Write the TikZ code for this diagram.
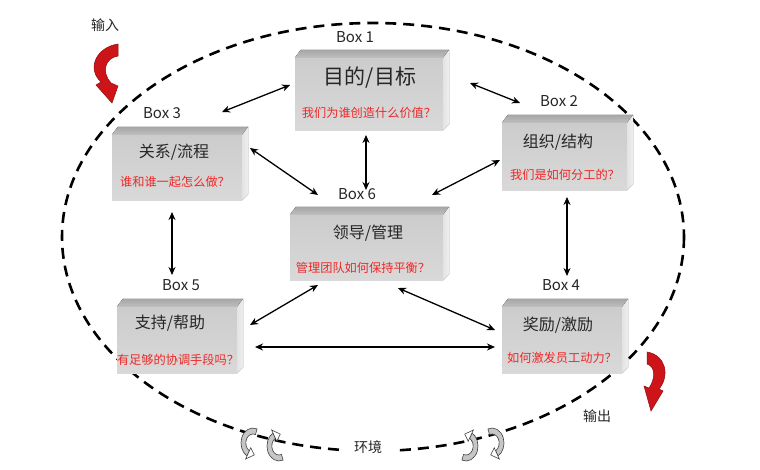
\documentclass[tikz,border=0pt]{standalone}
\usepackage{fontspec}
\setmainfont{Noto Sans CJK SC}
\usetikzlibrary{arrows.meta}
\definecolor{redtxt}{RGB}{238,40,40}
\definecolor{arrred}{RGB}{205,20,25}
\newcommand\mycube[5]{%
  \node[frontface, minimum width=#4pt, minimum height=#5pt] (#1) at (#2,#3) {};
  \fill[topface] (#1.north west) -- ++(6,-8) -- ([shift={(6,-8)}]#1.north east) -- (#1.north east) -- cycle;
  \fill[sideface] (#1.north east) -- ++(6,-8) -- ([shift={(6,-6)}]#1.south east) -- (#1.south east) -- cycle;
}
\tikzset{
  frontface/.style={inner sep=0pt, top color=gray!40, bottom color=gray!30, draw=none},
  topface/.style={top color=gray!70, bottom color=gray!50},
  sideface/.style={left color=gray!22, right color=gray!12},
  boxlbl/.style={font=\fontsize{15}{16}\selectfont, text=black!85},
  ttl/.style={font=\fontsize{16}{17}\selectfont, text=black!85},
  qst/.style={font=\fontsize{12.2}{13}\selectfont, text=redtxt},
  conn/.style={{Stealth[length=8pt,width=7pt]}-{Stealth[length=8pt,width=7pt]}, line width=1.3pt},
  envlbl/.style={font=\fontsize{14}{15}\selectfont, text=black!85},
  cyc/.pic={
    \filldraw[fill=gray!45, draw=black!75, line width=0.6pt] (70:15pt) arc[start angle=70, end angle=240, radius=15pt] -- (240:9pt) arc[start angle=240, end angle=70, radius=9pt] -- cycle;
    \filldraw[fill=white, draw=black!75, line width=0.6pt] (240:18.5pt) -- (278:12pt) -- (240:5.5pt) -- cycle;
  }
}
\begin{document}
\begin{tikzpicture}[x=1pt,y=-1pt]
\useasboundingbox (0,0) rectangle (760,469);
\fill[white] (0,0) rectangle (760,469);

% environment ellipse
\draw[dash pattern=on 11pt off 7pt, line width=2.6pt] (373,237) ellipse [x radius=311, y radius=214];

% boxes
\mycube{b1}{369}{94}{148}{72}
\mycube{b2}{564.5}{156.5}{125}{67}
\mycube{b3}{177}{167.5}{130}{65}
\mycube{b6}{366.5}{247.5}{153}{65}
\mycube{b5}{177}{340}{120}{66}
\mycube{b4}{562}{340}{120}{66}

% box labels
\node[boxlbl] (l1) at (355,37) {Box 1};
\node[boxlbl] (l2) at (559,101) {Box 2};
\node[boxlbl] (l3) at (162,113) {Box 3};
\node[boxlbl] (l6) at (357,194) {Box 6};
\node[boxlbl] (l5) at (181,285) {Box 5};
\node[boxlbl] (l4) at (561,285) {Box 4};

% titles
\node[ttl, font=\fontsize{21}{22}\selectfont] (t1) at (370,78) {目的/目标};
\node[ttl] (t2) at (558,142) {组织/结构};
\node[ttl] (t3) at (174,152) {关系/流程};
\node[ttl] (t6) at (368,233) {领导/管理};
\node[ttl] (t5) at (170,323) {支持/帮助};
\node[ttl] (t4) at (558,325) {奖励/激励};

% questions
\node[qst] (q1) at (369,113) {我们为谁创造什么价值？};
\node[qst] (q2) at (565,175) {我们是如何分工的？};
\node[qst] (q3) at (175,182) {谁和谁一起怎么做？};
\node[qst] (q6) at (363,268) {管理团队如何保持平衡？};
\node[qst] (q5) at (178,360) {有足够的协调手段吗？};
\node[qst] (q4) at (562,358) {如何激发员工动力？};

% connector ends
\coordinate (c13a) at (290,85);  \coordinate (c13b) at (222,112);
\coordinate (c12a) at (470,83);  \coordinate (c12b) at (520,103);
\coordinate (c16a) at (366,135); \coordinate (c16b) at (366,190);
\coordinate (c36a) at (250,148); \coordinate (c36b) at (318,195);
\coordinate (c26a) at (500,160); \coordinate (c26b) at (432,195);
\coordinate (c35a) at (172,212); \coordinate (c35b) at (172,275);
\coordinate (c24a) at (567,197); \coordinate (c24b) at (567,276);
\coordinate (c65a) at (318,285); \coordinate (c65b) at (250,325);
\coordinate (c64a) at (398,288); \coordinate (c64b) at (495,330);
\coordinate (c54a) at (255,347); \coordinate (c54b) at (495,347);

\draw[conn] (c13a) -- (c13b);
\draw[conn] (c12a) -- (c12b);
\draw[conn] (c16a) -- (c16b);
\draw[conn] (c36a) -- (c36b);
\draw[conn] (c26a) -- (c26b);
\draw[conn] (c35a) -- (c35b);
\draw[conn] (c24a) -- (c24b);
\draw[conn] (c65a) -- (c65b);
\draw[conn] (c64a) -- (c64b);
\draw[conn] (c54a) -- (c54b);

% input / output arrows
\node[envlbl] (in) at (105,25) {输入};
\filldraw[fill=arrred, draw=arrred!70!black, line width=0.5pt]
  (118,44) .. controls (97,47) and (86,68) .. (101,82) -- (96,85) -- (112,103) -- (118,86) -- (111,83)
  .. controls (101,72) and (105,58) .. (118,56) -- cycle;
\node[envlbl] (out) at (597,416) {输出};
\filldraw[fill=arrred, draw=arrred!70!black, line width=0.5pt]
  (647,352) .. controls (666,355) and (670,376) .. (659,389) -- (663,391) -- (651,411) -- (644,386) -- (649,388)
  .. controls (656,378) and (655,366) .. (647,364) -- cycle;

% environment
\node[envlbl, fill=white, inner xsep=14pt] (env) at (368,447) {环境};
\pic[xscale=0.8] at (253,443) {cyc};
\pic[xscale=0.8, yscale=-1] at (279,446) {cyc};
\pic[xscale=-0.8] at (492,443) {cyc};
\pic[xscale=-0.8, yscale=-1] at (466,446) {cyc};
\end{tikzpicture}
\end{document}
